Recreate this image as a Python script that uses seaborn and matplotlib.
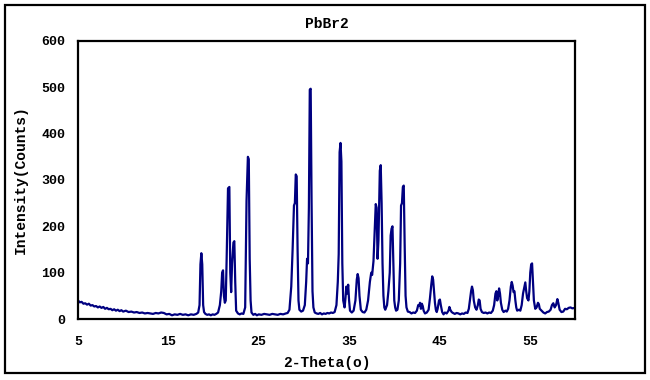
import matplotlib
matplotlib.use("Agg")
import matplotlib.pyplot as plt
import seaborn as sns
import pandas as pd
from matplotlib.patches import Rectangle

two_theta = [
    5.0, 5.2, 5.4, 5.6, 5.8, 6.0, 6.2, 6.4, 6.6, 6.8, 7.0, 7.2, 7.4, 7.6, 7.8, 8.0, 8.2, 8.4, 8.6, 8.8,
    9.0, 9.2, 9.4, 9.6, 9.8, 10.0, 10.3, 10.6, 10.9, 11.2, 11.5, 11.8, 12.1, 12.4, 12.7, 13.0, 13.3, 13.6,
    13.9, 14.2, 14.5, 14.8, 15.1, 15.4, 15.7, 16.0, 16.3, 16.6, 16.9, 17.2, 17.5, 17.8, 18.1, 18.3, 18.45,
    18.55, 18.65, 18.75, 18.85, 18.95, 19.1, 19.3, 19.5, 19.7, 19.9, 20.1, 20.3, 20.5, 20.7, 20.85, 20.95,
    21.05, 21.15, 21.25, 21.35, 21.45, 21.6, 21.75, 21.85, 21.95, 22.05, 22.2, 22.3, 22.4, 22.5, 22.7,
    22.9, 23.1, 23.3, 23.5, 23.65, 23.8, 23.9, 24.0, 24.1, 24.2, 24.4, 24.6, 24.8, 25.0, 25.3, 25.6, 25.9,
    26.2, 26.5, 26.8, 27.1, 27.4, 27.7, 28.0, 28.2, 28.4, 28.6, 28.75, 28.9, 29.0, 29.1, 29.2, 29.3, 29.4,
    29.5, 29.7, 29.9, 30.1, 30.25, 30.35, 30.45, 30.55, 30.65, 30.75, 30.85, 30.95, 31.05, 31.2, 31.4,
    31.6, 31.8, 32.0, 32.2, 32.4, 32.6, 32.8, 33.0, 33.2, 33.4, 33.6, 33.75, 33.85, 33.95, 34.05, 34.15,
    34.25, 34.35, 34.5, 34.6, 34.7, 34.8, 34.9, 35.0, 35.1, 35.3, 35.5, 35.7, 35.85, 35.95, 36.05, 36.15,
    36.3, 36.5, 36.7, 36.9, 37.1, 37.3, 37.45, 37.55, 37.7, 37.85, 37.95, 38.05, 38.15, 38.25, 38.4, 38.5,
    38.6, 38.7, 38.8, 38.9, 39.0, 39.2, 39.35, 39.5, 39.6, 39.7, 39.8, 39.9, 40.0, 40.1, 40.2, 40.35, 40.5,
    40.65, 40.75, 40.85, 40.95, 41.05, 41.15, 41.25, 41.35, 41.5, 41.7, 41.9, 42.1, 42.3, 42.5, 42.65,
    42.75, 42.85, 42.95, 43.05, 43.15, 43.25, 43.4, 43.6, 43.8, 43.95, 44.1, 44.2, 44.3, 44.4, 44.5, 44.6,
    44.7, 44.8, 44.95, 45.05, 45.15, 45.3, 45.45, 45.6, 45.8, 46.0, 46.1, 46.2, 46.35, 46.5, 46.7, 46.9,
    47.1, 47.3, 47.5, 47.7, 47.9, 48.1, 48.25, 48.4, 48.5, 48.6, 48.7, 48.8, 48.95, 49.1, 49.25, 49.35,
    49.45, 49.55, 49.7, 49.9, 50.1, 50.3, 50.5, 50.7, 50.9, 51.05, 51.2, 51.3, 51.4, 51.5, 51.6, 51.7,
    51.8, 51.95, 52.1, 52.3, 52.45, 52.6, 52.75, 52.9, 53.0, 53.1, 53.2, 53.3, 53.4, 53.5, 53.6, 53.8,
    53.95, 54.1, 54.25, 54.4, 54.5, 54.6, 54.7, 54.85, 54.95, 55.05, 55.15, 55.25, 55.35, 55.45, 55.6,
    55.75, 55.9, 56.0, 56.1, 56.3, 56.5, 56.7, 56.9, 57.1, 57.3, 57.45, 57.6, 57.75, 57.9, 58.05, 58.15,
    58.3, 58.5, 58.7, 58.9, 59.1, 59.3, 59.5, 59.7, 60.0,
]
counts = [
    40, 36, 37, 33, 34, 31, 33, 29, 30, 27, 28, 25, 27, 24, 26, 22, 24, 21, 22, 19,
    21, 18, 20, 17, 19, 16, 18, 15, 16, 14, 15, 13, 14, 12, 13, 12, 11, 13,
    12, 14, 13, 10, 11, 8, 10, 9, 11, 9, 10, 8, 10, 9, 11, 14, 30,
    118, 142, 118, 30, 15, 11, 9, 10, 8, 10, 9, 11, 14, 30, 60, 100,
    105, 50, 35, 40, 130, 282, 285, 100, 58, 120, 165, 168, 80, 18, 12,
    10, 12, 11, 25, 255, 350, 345, 130, 40, 14, 9, 11, 8, 10, 9, 11, 10,
    9, 11, 10, 9, 11, 10, 12, 13, 20, 70, 150, 245, 250, 312, 308, 150, 40,
    20, 16, 18, 30, 80, 130, 120, 240, 495, 497, 250, 60, 25, 14, 12,
    11, 13, 10, 12, 11, 13, 12, 14, 13, 15, 30, 80, 140, 360, 380, 340,
    120, 40, 25, 45, 70, 55, 74, 40, 18, 14, 18, 40, 85, 97, 88, 50,
    20, 15, 14, 20, 40, 80, 100, 95, 125, 200, 248, 240, 130, 170, 320, 332,
    250, 120, 50, 25, 20, 30, 60, 100, 180, 195, 200, 120, 40, 25, 18, 20, 40,
    120, 245, 250, 285, 288, 160, 50, 25, 16, 15, 12, 14, 13, 18, 30,
    28, 35, 22, 33, 28, 18, 12, 14, 20, 45, 75, 92, 85, 60, 35, 20,
    15, 22, 40, 42, 30, 15, 10, 14, 12, 18, 26, 20, 15, 13, 11, 13,
    12, 10, 12, 11, 14, 13, 22, 45, 60, 70, 62, 40, 25, 20, 30, 42,
    40, 22, 15, 13, 14, 12, 14, 13, 18, 30, 55, 60, 40, 50, 66, 55,
    35, 20, 15, 18, 16, 22, 40, 70, 80, 72, 58, 60, 40, 25, 18, 20,
    18, 30, 55, 70, 79, 60, 45, 40, 60, 100, 118, 120, 80, 40, 22,
    25, 35, 32, 22, 18, 14, 12, 15, 16, 20, 30, 34, 25, 30, 43, 35,
    20, 15, 16, 22, 21, 24, 25, 23, 24,
]
title = "PbBr2"
x_label = "2-Theta(o)"
y_label = "Intensity(Counts)"
x_ticks = [5, 15, 25, 35, 45, 55]
y_ticks = [0, 100, 200, 300, 400, 500, 600]

df = pd.DataFrame({"two_theta": two_theta, "counts": counts})

sns.set_theme(style="white")
font = ["Liberation Mono", "DejaVu Sans Mono"]
plt.rcParams["font.family"] = font

fig = plt.figure(figsize=(6.5, 3.8), dpi=100)
ax = fig.add_axes([78 / 650, 1 - 319 / 380, (575 - 78) / 650, (319 - 41) / 380])

sns.lineplot(data=df, x="two_theta", y="counts", ax=ax, color="#000080",
             linewidth=1.6, estimator=None, sort=False)

ax.set_xlim(5, 60)
ax.set_ylim(0, 600)
ax.set_xticks(x_ticks)
ax.set_yticks(y_ticks)
ax.set_xticklabels([str(t) for t in x_ticks], fontsize=9.5, color="black", fontweight="bold")
ax.set_yticklabels([str(t) for t in y_ticks], fontsize=9.5, color="black", fontweight="bold")
ax.tick_params(axis="both", direction="in", length=5, width=1.5, color="black")
ax.tick_params(axis="x", pad=12)
ax.tick_params(axis="y", pad=9)
for s in ax.spines.values():
    s.set_color("black")
    s.set_linewidth(1.6)

ax.set_xlabel(x_label, fontsize=10.5, color="black", labelpad=6, fontweight="bold")
ax.set_ylabel(y_label, fontsize=10.5, color="black", labelpad=10, fontweight="bold")
ax.set_title(title, fontsize=10.5, color="black", pad=9, fontweight="bold")

fig.patches.append(Rectangle((5 / 650, 1 - 373 / 380), 640 / 650, 368 / 380,
                             transform=fig.transFigure, fill=False,
                             edgecolor="black", linewidth=1.6))

fig.savefig("out.png", dpi=100)
